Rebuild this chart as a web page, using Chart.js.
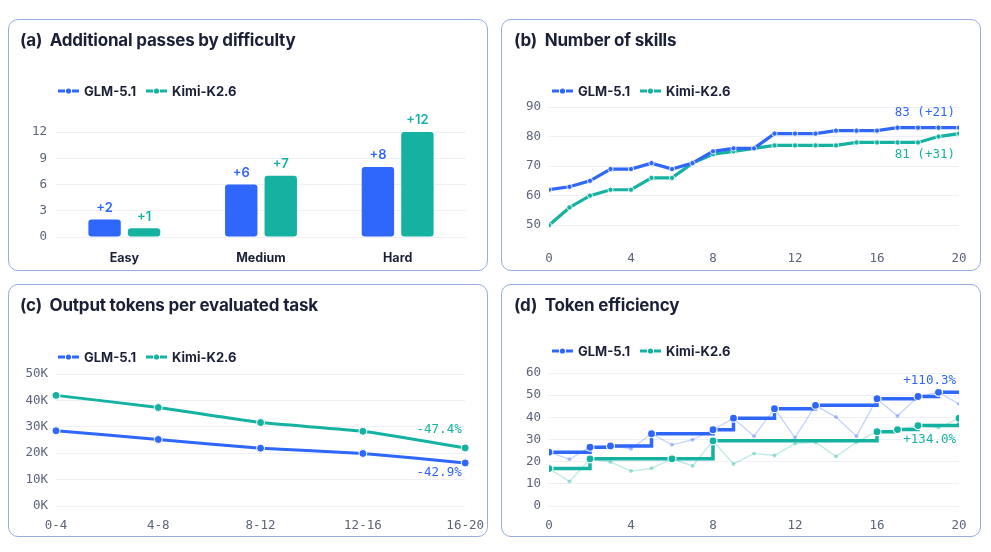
<!DOCTYPE html>
<html>
<head>
<meta charset="utf-8">
<script src="https://cdn.jsdelivr.net/npm/chart.js@4.4.1/dist/chart.umd.min.js"></script>
<style>
  body { margin: 0; background: #fff; width: 991px; height: 552px; position: relative; overflow: hidden; font-family: Inter, "Noto Sans", sans-serif; }
  .card { position: absolute; border: 1.5px solid #98acdd; border-radius: 10px; box-sizing: border-box; background: #fff; }
  .title { position: absolute; font-weight: 700; font-size: 17px; color: #1b2036; white-space: nowrap; line-height: 20px; letter-spacing: -0.2px; }
  .legend { position: absolute; display: flex; align-items: center; font-weight: 700; font-size: 13px; color: #1b2036; line-height: 16px; }
  .legend span { display: flex; align-items: center; margin-right: 10px; }
  .legend svg { margin-right: 5px; }
  canvas { position: absolute; }
</style>
</head>
<body>

<div class="card" style="left:8px;top:19px;width:480px;height:252px"></div>
<div class="card" style="left:501px;top:19px;width:480px;height:252px"></div>
<div class="card" style="left:8px;top:284px;width:480px;height:253px"></div>
<div class="card" style="left:501px;top:284px;width:480px;height:253px"></div>

<canvas id="chartA" width="480" height="252" style="left:8px;top:19px"></canvas>
<canvas id="chartB" width="480" height="252" style="left:501px;top:19px"></canvas>
<canvas id="chartC" width="480" height="253" style="left:8px;top:284px"></canvas>
<canvas id="chartD" width="480" height="253" style="left:501px;top:284px"></canvas>

<div class="title" style="left:20px;top:30px">(a)&nbsp; Additional passes by difficulty</div>
<div class="title" style="left:514px;top:30px">(b)&nbsp; Number of skills</div>
<div class="title" style="left:20px;top:295px">(c)&nbsp; Output tokens per evaluated task</div>
<div class="title" style="left:514px;top:295px">(d)&nbsp; Token efficiency</div>

<div class="legend" id="legA" style="left:58px;top:83px"></div>
<div class="legend" id="legB" style="left:552px;top:83px"></div>
<div class="legend" id="legC" style="left:58px;top:349px"></div>
<div class="legend" id="legD" style="left:552px;top:343px"></div>

<script>
const BLUE = '#2f66fb';
const TEAL = '#15b2a1';
const TICK_COLOR = '#5d6479';
const GRID_COLOR = '#eef0f6';
const MONO = '"DejaVu Sans Mono", monospace';

// (a) additional passes
const DIFFICULTY = ['Easy', 'Medium', 'Hard'];
const PASSES_GLM = [2, 6, 8];
const PASSES_KIMI = [1, 7, 12];

// (b) number of skills per round
const ROUNDS = [0, 1, 2, 3, 4, 5, 6, 7, 8, 9, 10, 11, 12, 13, 14, 15, 16, 17, 18, 19, 20];
const SKILLS_GLM = [62, 63, 65, 69, 69, 71, 69, 71, 75, 76, 76, 81, 81, 81, 82, 82, 82, 83, 83, 83, 83];
const SKILLS_KIMI = [50, 56, 60, 62, 62, 66, 66, 71, 74, 75, 76, 77, 77, 77, 77, 78, 78, 78, 78, 80, 81];

// (c) output tokens per evaluated task
const BUCKETS = ['0-4', '4-8', '8-12', '12-16', '16-20'];
const TOKENS_GLM = [28500, 25200, 21900, 19900, 16300];
const TOKENS_KIMI = [41900, 37300, 31600, 28300, 22000];

// (d) token efficiency, raw per round and best so far
const EFF_GLM = [24.3, 21.1, 26.5, 27.1, 25.8, 32.6, 27.6, 29.9, 34.4, 39.6, 31.5, 43.9, 30.9, 45.4, 40.1, 31.5, 48.4, 40.6, 49.4, 51.3, 46.0];
const EFF_GLM_BEST = [24.3, 24.3, 26.5, 27.1, 27.1, 32.6, 32.6, 32.6, 34.4, 39.6, 39.6, 43.9, 43.9, 45.4, 45.4, 45.4, 48.4, 48.4, 49.4, 51.3, 51.3];
const EFF_KIMI = [16.9, 11.0, 21.3, 19.9, 15.8, 17.0, 21.3, 18.1, 29.4, 19.0, 23.7, 22.8, 28.2, 28.8, 22.3, 28.8, 33.5, 34.5, 36.3, 35.4, 39.6];
const EFF_KIMI_BEST = [16.9, 16.9, 21.3, 21.3, 21.3, 21.3, 21.3, 21.3, 29.4, 29.4, 29.4, 29.4, 29.4, 29.4, 29.4, 29.4, 33.5, 34.5, 36.3, 36.3, 39.6];

const SERIES = [{ name: 'GLM-5.1', color: BLUE }, { name: 'Kimi-K2.6', color: TEAL }];

function buildLegend(id) {
    const el = document.getElementById(id);
    el.innerHTML = SERIES.map(s =>
        '<span><svg width="21" height="8" viewBox="0 0 21 8">' +
        '<line x1="0" y1="4" x2="7" y2="4" stroke="' + s.color + '" stroke-width="3"/>' +
        '<circle cx="10.5" cy="4" r="2.6" fill="' + s.color + '"/>' +
        '<line x1="14" y1="4" x2="21" y2="4" stroke="' + s.color + '" stroke-width="3"/>' +
        '</svg>' + s.name + '</span>').join('');
}
['legA', 'legB', 'legC', 'legD'].forEach(buildLegend);

function fixWidth(w) { return function (scale) { scale.width = w; }; }
function fixHeight(h) { return function (scale) { scale.height = h; }; }

function monoTicks(extra) {
    return Object.assign({ color: TICK_COLOR, font: { family: MONO, size: 12.5 } }, extra);
}

// text labels next to the last points of a line chart
function endLabels(items) {
    return {
        id: 'endLabels',
        afterDatasetsDraw(chart) {
            const ctx = chart.ctx;
            ctx.save();
            ctx.font = '12.5px ' + MONO;
            ctx.textAlign = 'right';
            ctx.textBaseline = 'middle';
            items.forEach(it => {
                const meta = chart.getDatasetMeta(it.dataset);
                const pt = meta.data[meta.data.length - 1];
                ctx.fillStyle = it.color;
                ctx.fillText(it.text, chart.chartArea.right + it.dx, pt.y + it.dy);
            });
            ctx.restore();
        }
    };
}

Chart.defaults.animation = false;
Chart.defaults.responsive = false;
Chart.defaults.plugins.legend.display = false;
Chart.defaults.plugins.tooltip.enabled = false;

// (a) bar chart
const barLabels = {
    id: 'barLabels',
    afterDatasetsDraw(chart) {
        const ctx = chart.ctx;
        ctx.save();
        ctx.font = '600 13px Inter, sans-serif';
        ctx.textAlign = 'center';
        ctx.textBaseline = 'bottom';
        chart.data.datasets.forEach((ds, di) => {
            chart.getDatasetMeta(di).data.forEach((bar, i) => {
                ctx.fillStyle = ds.backgroundColor;
                ctx.fillText('+' + ds.data[i], bar.x, bar.y - 5);
            });
        });
        ctx.restore();
    }
};

new Chart(document.getElementById('chartA'), {
    type: 'bar',
    data: {
        labels: DIFFICULTY,
        datasets: [
            { label: 'GLM-5.1', data: PASSES_GLM, backgroundColor: BLUE },
            { label: 'Kimi-K2.6', data: PASSES_KIMI, backgroundColor: TEAL }
        ]
    },
    options: {
        layout: { padding: { left: 8, right: 22, top: 113, bottom: 0 } },
        datasets: { bar: { barPercentage: 0.82, categoryPercentage: 0.578, borderRadius: 3, borderSkipped: false } },
        scales: {
            x: {
                grid: { display: false }, border: { display: false },
                ticks: { color: '#1b2036', font: { family: 'Inter, sans-serif', size: 12.5, weight: '700' }, padding: 6 },
                afterFit: fixHeight(34)
            },
            y: {
                min: 0, max: 12,
                grid: { color: GRID_COLOR, drawTicks: false }, border: { display: false },
                ticks: monoTicks({ stepSize: 3, padding: 9 }),
                afterFit: fixWidth(40)
            }
        }
    },
    plugins: [barLabels]
});

// (b) number of skills
function pts(xs, ys) { return xs.map((x, i) => ({ x: x, y: ys[i] })); }

new Chart(document.getElementById('chartB'), {
    type: 'line',
    data: {
        datasets: [
            { label: 'GLM-5.1', data: pts(ROUNDS, SKILLS_GLM), borderColor: BLUE, backgroundColor: BLUE },
            { label: 'Kimi-K2.6', data: pts(ROUNDS, SKILLS_KIMI), borderColor: TEAL, backgroundColor: TEAL }
        ]
    },
    options: {
        layout: { padding: { left: 8, right: 22, top: 88, bottom: 0 } },
        datasets: { line: { borderWidth: 3.2, pointRadius: 2.6, pointBorderColor: '#fff', pointBorderWidth: 0.8 } },
        scales: {
            x: {
                type: 'linear', min: 0, max: 20,
                grid: { display: false }, border: { display: false },
                ticks: monoTicks({ stepSize: 4, padding: 6 }),
                afterFit: fixHeight(34)
            },
            y: {
                min: 46, max: 90,
                grid: { color: GRID_COLOR, drawTicks: false }, border: { display: false },
                ticks: monoTicks({ padding: 8 }),
                afterBuildTicks(scale) { scale.ticks = [50, 60, 70, 80, 90].map(v => ({ value: v })); },
                afterFit: fixWidth(40)
            }
        }
    },
    plugins: [endLabels([
        { dataset: 0, text: '83 (+21)', color: BLUE, dx: -4, dy: -15 },
        { dataset: 1, text: '81 (+31)', color: TEAL, dx: -4, dy: 21 }
    ])]
});

// (c) output tokens
new Chart(document.getElementById('chartC'), {
    type: 'line',
    data: {
        labels: BUCKETS,
        datasets: [
            { label: 'GLM-5.1', data: TOKENS_GLM, borderColor: BLUE, backgroundColor: BLUE },
            { label: 'Kimi-K2.6', data: TOKENS_KIMI, borderColor: TEAL, backgroundColor: TEAL }
        ]
    },
    options: {
        layout: { padding: { left: 8, right: 22, top: 90, bottom: 0 } },
        datasets: { line: { borderWidth: 3, tension: 0.15, pointRadius: 4, pointBorderColor: '#fff', pointBorderWidth: 1 } },
        scales: {
            x: {
                grid: { display: false }, border: { display: false },
                ticks: monoTicks({ padding: 4 }),
                afterFit: fixHeight(31)
            },
            y: {
                min: 0, max: 50000,
                grid: { color: GRID_COLOR, drawTicks: false }, border: { display: false },
                ticks: monoTicks({ stepSize: 10000, padding: 8, callback: v => (v / 1000) + 'K' }),
                afterFit: fixWidth(40)
            }
        }
    },
    plugins: [endLabels([
        { dataset: 1, text: '-47.4%', color: TEAL, dx: -3.5, dy: -18.5 },
        { dataset: 0, text: '-42.9%', color: BLUE, dx: -3.5, dy: 9.5 }
    ])]
});

// (d) token efficiency
function bestRadius(raw, best, r) {
    return ctx => (raw[ctx.dataIndex] >= best[ctx.dataIndex] ? r : 0);
}

new Chart(document.getElementById('chartD'), {
    type: 'line',
    data: {
        datasets: [
            { label: 'GLM-5.1 raw', data: pts(ROUNDS, EFF_GLM), borderColor: 'rgba(47,102,251,0.28)', backgroundColor: 'rgba(47,102,251,0.35)',
              borderWidth: 1.3, pointRadius: 2, pointBorderWidth: 0 },
            { label: 'Kimi-K2.6 raw', data: pts(ROUNDS, EFF_KIMI), borderColor: 'rgba(21,178,161,0.28)', backgroundColor: 'rgba(21,178,161,0.35)',
              borderWidth: 1.3, pointRadius: 2, pointBorderWidth: 0 },
            { label: 'GLM-5.1', data: pts(ROUNDS, EFF_GLM_BEST), borderColor: BLUE, backgroundColor: BLUE, stepped: true,
              borderWidth: 3.5, pointRadius: bestRadius(EFF_GLM, EFF_GLM_BEST, 4), pointBorderColor: '#fff', pointBorderWidth: 1.2 },
            { label: 'Kimi-K2.6', data: pts(ROUNDS, EFF_KIMI_BEST), borderColor: TEAL, backgroundColor: TEAL, stepped: true,
              borderWidth: 3.5, pointRadius: bestRadius(EFF_KIMI, EFF_KIMI_BEST, 4), pointBorderColor: '#fff', pointBorderWidth: 1.2 }
        ]
    },
    options: {
        layout: { padding: { left: 8, right: 22, top: 89, bottom: 0 } },
        scales: {
            x: {
                type: 'linear', min: 0, max: 20,
                grid: { display: false }, border: { display: false },
                ticks: monoTicks({ stepSize: 4, padding: 4 }),
                afterFit: fixHeight(31)
            },
            y: {
                min: 0, max: 60,
                grid: { color: GRID_COLOR, drawTicks: false }, border: { display: false },
                ticks: monoTicks({ stepSize: 10, padding: 8 }),
                afterFit: fixWidth(40)
            }
        }
    },
    plugins: [endLabels([
        { dataset: 2, text: '+110.3%', color: BLUE, dx: -3, dy: -11.5 },
        { dataset: 3, text: '+134.0%', color: TEAL, dx: -3, dy: 21.5 }
    ])]
});
</script>
</body>
</html>
